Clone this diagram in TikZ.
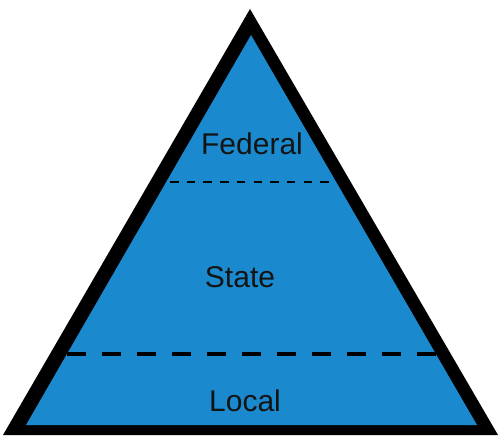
\documentclass[tikz,border=0pt]{standalone}
\usepackage{fontspec}
\setmainfont{Liberation Sans}
\definecolor{pyrblue}{RGB}{26,137,206}
\definecolor{pyredge}{RGB}{0,0,0}
\tikzset{
  tierlbl/.style={anchor=base, inner sep=0pt, font=\fontsize{30}{36}\selectfont, text=black!92},
  tiersep/.style={line width=4.5pt, dash pattern=on 19pt off 16pt, pyredge},
  tiersepthin/.style={line width=2pt, dash pattern=on 8.5pt off 8.2pt, pyredge},
}
\begin{document}
\begin{tikzpicture}[x=1pt,y=1pt]
  \useasboundingbox (0,0) rectangle (500,442);
  % outline and body
  \fill[pyredge] (3,7) -- (498,7) -- (250,433) -- cycle;
  \fill[pyrblue] (26,17) -- (477,17) -- (251,407) -- cycle;
  % level borders
  \draw[tiersepthin] (170,260) -- (331,260);
  \draw[tiersep] (67,88) -- (438,88);
  % levels
  \node[tierlbl] (federal) at (252,287) {Federal};
  \node[tierlbl] (state) at (240,155) {State};
  \node[tierlbl] (local) at (245,31) {Local};
\end{tikzpicture}
\end{document}
